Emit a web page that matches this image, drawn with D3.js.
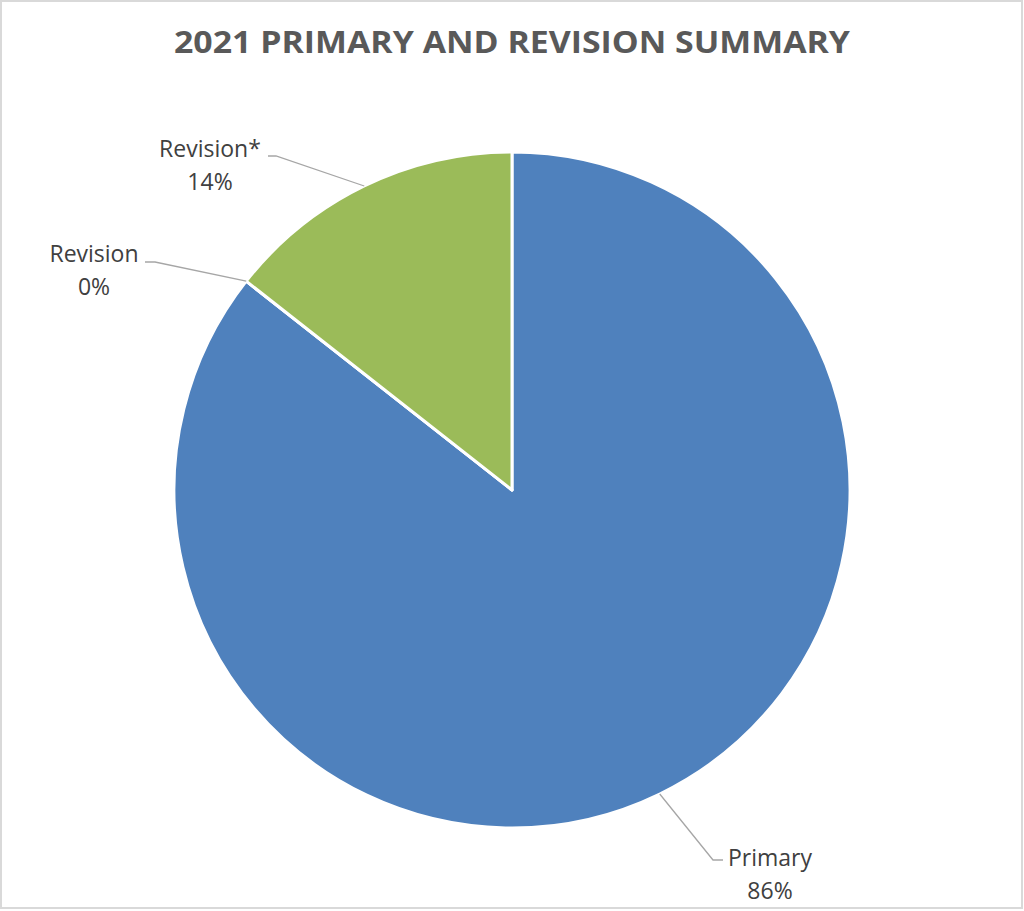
<!DOCTYPE html>
<html>
<head>
<meta charset="utf-8">
<script src="https://cdn.jsdelivr.net/npm/d3@7"></script>
<style>
  body { margin: 0; background: #fff; }
  svg { display: block; font-family: "Open Sans", "Liberation Sans", sans-serif; }
</style>
</head>
<body>
<svg width="1024" height="911"></svg>
<script>
// -------------------- DATA --------------------
const categories = ["Primary", "Revision", "Revision*"];
const shares = [85.6, 0, 14.4];          // share of total, %
const labels = ["86%", "0%", "14%"];
const colors = ["#4F81BD", "#C0504D", "#9BBB59"];

// label anchor (text centre) and elbow of the leader, per slice
const labelPos = [
  { x: 770, y: 866, ex: 713, ey: 860, hx: 723 },
  { x: 94,  y: 262, ex: 155, ey: 262, hx: 145 },
  { x: 210, y: 157, ex: 276, ey: 156, hx: 268 }
];

// -------------------- SVG --------------------
const svg = d3.select("svg");
const cx = 512, cy = 490, r = 338;

svg.append("rect")
  .attr("x", 1).attr("y", 1)
  .attr("width", 1021).attr("height", 907)
  .attr("fill", "#fff")
  .attr("stroke", "#d9d9d9")
  .attr("stroke-width", 2);

svg.append("text")
  .attr("x", cx).attr("y", 53)
  .attr("text-anchor", "middle")
  .attr("fill", "#595959")
  .style("font-weight", "bold")
  .style("font-size", "31px")
  .attr("textLength", 676)
  .attr("lengthAdjust", "spacingAndGlyphs")
  .text("2021 PRIMARY AND REVISION SUMMARY");

// -------------------- PIE --------------------
const data = categories.map((c, i) => ({ name: c, value: shares[i], label: labels[i], i }));
const pie = d3.pie().sort(null).value(d => d.value);
const arc = d3.arc().innerRadius(0).outerRadius(r);
const arcs = pie(data);

const g = svg.append("g").attr("transform", `translate(${cx},${cy})`);

g.selectAll("path")
  .data(arcs)
  .enter()
  .append("path")
  .attr("d", arc)
  .attr("fill", d => colors[d.data.i])
  .attr("stroke", "#fff")
  .attr("stroke-width", 3)
  .attr("stroke-linejoin", "round");

// -------------------- LEADERS + LABELS --------------------
arcs.forEach(d => {
  const p = labelPos[d.data.i];
  const mid = (d.startAngle + d.endAngle) / 2;
  const sx = cx + r * Math.sin(mid);
  const sy = cy - r * Math.cos(mid);

  svg.append("polyline")
    .attr("points", `${sx},${sy} ${p.ex},${p.ey} ${p.hx},${p.ey}`)
    .attr("fill", "none")
    .attr("stroke", "#a6a6a6")
    .attr("stroke-width", 1.3);

  const t = svg.append("text")
    .attr("text-anchor", "middle")
    .attr("fill", "#404040")
    .style("font-size", "23px");
  t.append("tspan").attr("x", p.x).attr("y", p.y).text(d.data.name);
  t.append("tspan").attr("x", p.x).attr("y", p.y + 33).text(d.data.label);
});
</script>
</body>
</html>
